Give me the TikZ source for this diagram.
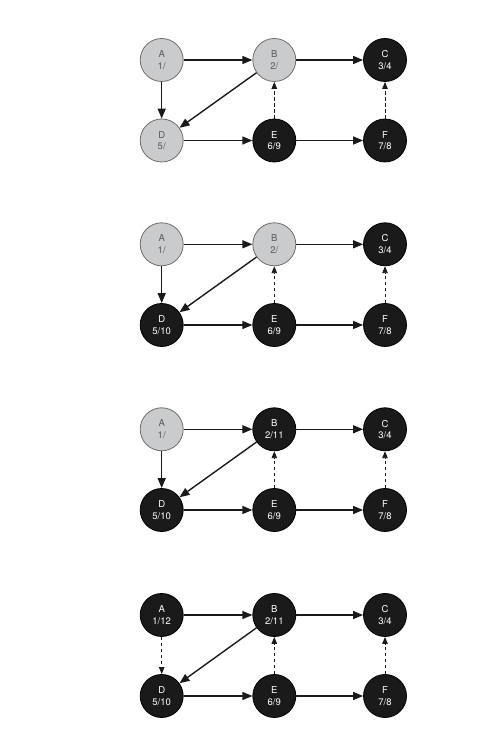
\documentclass[tikz,border=0pt]{standalone}
\usepackage{fontspec}
\setmainfont{TeX Gyre Heros}
\usetikzlibrary{arrows.meta}
\definecolor{nodegray}{HTML}{C9CBCD}
\definecolor{nodeblack}{HTML}{1A1A1A}
\definecolor{graytext}{HTML}{5A5A5A}
\definecolor{grayline}{HTML}{6E6E6E}
\tikzset{
  vtx/.style={circle, minimum size=43pt, inner sep=0pt, align=center,
    font=\fontsize{9.5}{11.5}\selectfont, line width=0.8pt},
  gnode/.style={vtx, fill=nodegray, draw=grayline, text=graytext},
  bnode/.style={vtx, fill=nodeblack, draw=black, text=white},
  edge/.style={line width=1.4pt, -{Triangle[length=10pt,width=8pt]}, draw=nodeblack},
  dedge/.style={line width=0.9pt, -{Triangle[length=7pt,width=5.5pt]}, draw=nodeblack,
    dash pattern=on 3.5pt off 2.5pt},
}
\begin{document}
\begin{tikzpicture}[x=1pt,y=1pt]
\useasboundingbox (0,0) rectangle (485,745);
% ---------- panel 1 ----------
\node[gnode] (A1) at (161.7,685) {A\\1/};
\node[gnode] (B1) at (274.3,685) {B\\2/};
\node[bnode] (C1) at (385,685) {C\\3/4};
\node[gnode] (D1) at (161.7,604.5) {D\\5/};
\node[bnode] (E1) at (274.3,604.5) {E\\6/9};
\node[bnode] (F1) at (385,604.5) {F\\7/8};
\draw[edge] (A1) -- (B1);
\draw[edge] (B1) -- (C1);
\draw[edge] (A1) -- (D1);
\draw[edge] (B1) -- (D1);
\draw[edge] (D1) -- (E1);
\draw[edge] (E1) -- (F1);
\draw[dedge] (E1) -- (B1);
\draw[dedge] (F1) -- (C1);
% ---------- panel 2 ----------
\node[gnode] (A2) at (161.7,500.7) {A\\1/};
\node[gnode] (B2) at (274.3,500.7) {B\\2/};
\node[bnode] (C2) at (385,500.7) {C\\3/4};
\node[bnode] (D2) at (161.7,420) {D\\5/10};
\node[bnode] (E2) at (274.3,420) {E\\6/9};
\node[bnode] (F2) at (385,420) {F\\7/8};
\draw[edge] (A2) -- (B2);
\draw[edge] (B2) -- (C2);
\draw[edge] (A2) -- (D2);
\draw[edge] (B2) -- (D2);
\draw[edge] (D2) -- (E2);
\draw[edge] (E2) -- (F2);
\draw[dedge] (E2) -- (B2);
\draw[dedge] (F2) -- (C2);
% ---------- panel 3 ----------
\node[gnode] (A3) at (161.7,315.7) {A\\1/};
\node[bnode] (B3) at (274.3,315.7) {B\\2/11};
\node[bnode] (C3) at (385,315.7) {C\\3/4};
\node[bnode] (D3) at (161.7,235) {D\\5/10};
\node[bnode] (E3) at (274.3,235) {E\\6/9};
\node[bnode] (F3) at (385,235) {F\\7/8};
\draw[edge] (A3) -- (B3);
\draw[edge] (B3) -- (C3);
\draw[edge] (A3) -- (D3);
\draw[edge] (B3) -- (D3);
\draw[edge] (D3) -- (E3);
\draw[edge] (E3) -- (F3);
\draw[dedge] (E3) -- (B3);
\draw[dedge] (F3) -- (C3);
% ---------- panel 4 ----------
\node[bnode] (A4) at (161.7,130) {A\\1/12};
\node[bnode] (B4) at (274.3,130) {B\\2/11};
\node[bnode] (C4) at (385,130) {C\\3/4};
\node[bnode] (D4) at (161.7,49) {D\\5/10};
\node[bnode] (E4) at (274.3,49) {E\\6/9};
\node[bnode] (F4) at (385,49) {F\\7/8};
\draw[edge] (A4) -- (B4);
\draw[edge] (B4) -- (C4);
\draw[dedge] (A4) -- (D4);
\draw[edge] (B4) -- (D4);
\draw[edge] (D4) -- (E4);
\draw[edge] (E4) -- (F4);
\draw[dedge] (E4) -- (B4);
\draw[dedge] (F4) -- (C4);
\end{tikzpicture}
\end{document}
